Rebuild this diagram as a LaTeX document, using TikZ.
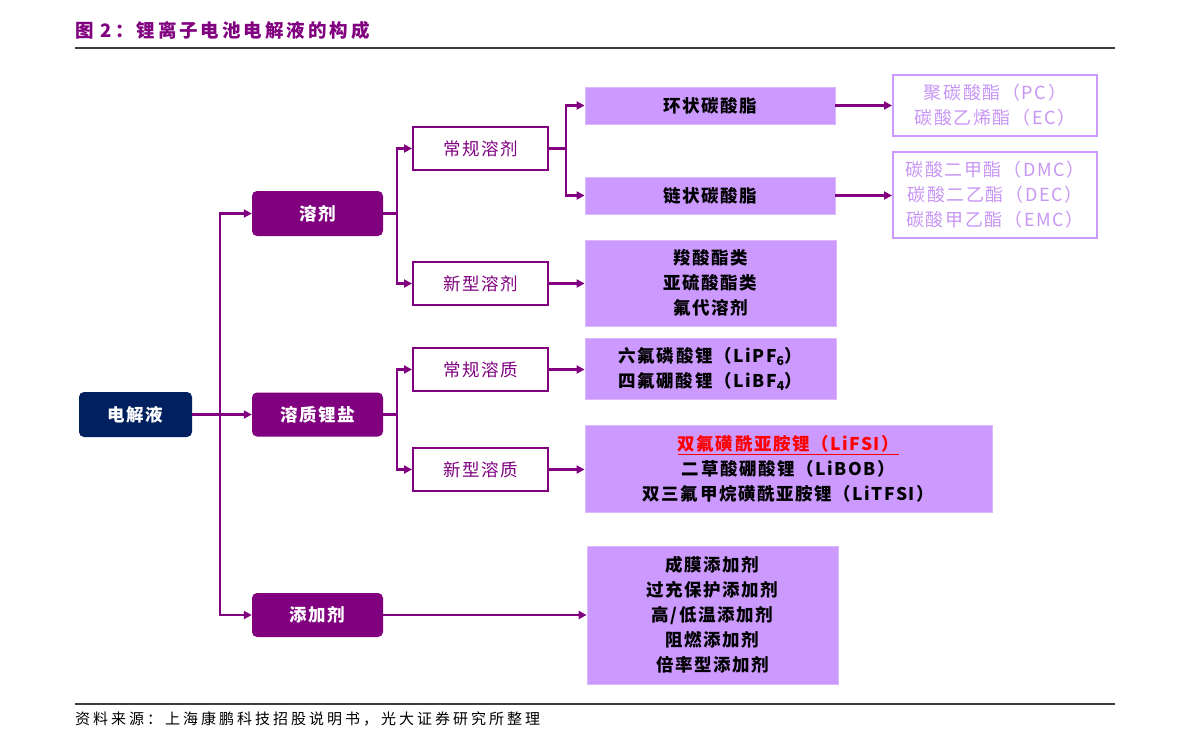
\documentclass[tikz,border=0pt]{standalone}
\usepackage{fontspec}
\setmainfont{Noto Sans CJK SC}[LetterSpace=9]
\newfontfamily\footfont{Noto Sans CJK SC}[LetterSpace=20]
\newfontfamily\titlefont{Noto Sans CJK SC}[LetterSpace=16]
\usetikzlibrary{arrows.meta}
\definecolor{pur}{RGB}{128,0,128}
\definecolor{navy}{RGB}{0,32,96}
\definecolor{lav}{RGB}{204,153,255}
\definecolor{lavtxt}{RGB}{200,150,245}
\begin{document}
\begin{tikzpicture}[x=1pt,y=-1pt,
  base/.style={inner sep=0pt, align=center, font=\fontsize{17.5}{25}\selectfont},
  dark/.style={base, fill=#1, rounded corners=5pt, text=white, font=\fontsize{17.5}{25}\selectfont\bfseries},
  wbox/.style={base, draw=pur, line width=2pt, fill=white, text=pur, minimum width=135pt, minimum height=43pt},
  lbox/.style={base, fill=lav, draw=lav!70!white, line width=0.8pt, text=black, font=\fontsize{17.5}{25}\selectfont\bfseries},
  obox/.style={base, draw=lav, line width=2pt, fill=white, text=lavtxt, minimum width=204pt, font=\fontsize{18}{25}\selectfont},
  arr/.style={draw=pur, line width=2.2pt, -{Triangle[length=8pt,width=8pt]}},
  ln/.style={draw=pur, line width=2.2pt}
]
\useasboundingbox (0,0) rectangle (1191,747);
% title and rules
\node[anchor=west, inner sep=0pt, text=pur, font=\fontsize{18.5}{20}\selectfont\titlefont\bfseries] (title) at (75,30) {图 2：锂离子电池电解液的构成};
\draw[line width=1.3pt, black!75] (75,48) -- (1115,48);
\draw[line width=1.3pt, black!75] (75,704) -- (1115,704);
\node[anchor=west, inner sep=0pt, font=\fontsize{15}{18}\selectfont\footfont] (src) at (75,719) {资料来源：上海康鹏科技招股说明书，光大证券研究所整理};

% level 0/1
\node[dark=navy, minimum width=113pt, minimum height=45pt] (root) at (135.5,414.5) {电解液};
\node[dark=pur, minimum width=131pt, minimum height=45pt] (solv) at (317.5,213.5) {溶剂};
\node[dark=pur, minimum width=131pt, minimum height=44pt] (salt) at (317.5,414.5) {溶质锂盐};
\node[dark=pur, minimum width=131pt, minimum height=44pt] (add) at (317.5,615) {添加剂};

% level 2
\node[wbox] (cs) at (480.5,148.5) {常规溶剂};
\node[wbox] (ns) at (480.5,283.5) {新型溶剂};
\node[wbox] (csa) at (480.5,369.5) {常规溶质};
\node[wbox] (nsa) at (480.5,469.5) {新型溶质};

% level 3
\node[lbox, minimum width=250pt, minimum height=37pt] (ring) at (710,105.5) {环状碳酸脂};
\node[lbox, minimum width=250pt, minimum height=37pt] (chain) at (710,195.5) {链状碳酸脂};
\node[lbox, minimum width=251pt, minimum height=86pt] (newsolv) at (710.5,283) {羧酸酯类\\亚硫酸酯类\\氟代溶剂};
\node[lbox, minimum width=251pt, minimum height=61pt] (convsalt) at (710.5,369) {六氟磷酸锂（LiPF\textsubscript{6}）\\四氟硼酸锂（LiBF\textsubscript{4}）};
\node[lbox, minimum width=407pt, minimum height=87pt] (newsalt) at (788.5,469) {\textcolor{red}{\underline{双氟磺酰亚胺锂（LiFSI）}}\\二草酸硼酸锂（LiBOB）\\双三氟甲烷磺酰亚胺锂（LiTFSI）};
\node[lbox, minimum width=251pt, minimum height=138pt] (additive) at (712.5,615) {成膜添加剂\\过充保护添加剂\\高/低温添加剂\\阻燃添加剂\\倍率型添加剂};

% level 4
\node[obox, minimum height=61pt] (pc) at (995,105.5) {聚碳酸酯（PC）\\碳酸乙烯酯（EC）};
\node[obox, minimum height=86pt] (dmc) at (995,195) {碳酸二甲酯（DMC）\\碳酸二乙酯（DEC）\\碳酸甲乙酯（EMC）};

% connectors
\coordinate (t0) at (220,414.5);
\draw[ln] (root.east) -- (t0);
\draw[arr] (t0) |- (solv.west);
\draw[arr] (t0) |- (add.west);
\draw[arr] (t0) -- (salt.west);

\coordinate (t1) at (397,213.5);
\draw[ln] (solv.east) -- (t1);
\draw[arr] (t1) |- (cs.west);
\draw[arr] (t1) |- (ns.west);

\coordinate (t2) at (397,414.5);
\draw[ln] (salt.east) -- (t2);
\draw[arr] (t2) |- (csa.west);
\draw[arr] (t2) |- (nsa.west);

\coordinate (t3) at (566,148.5);
\draw[ln] (cs.east) -- (t3);
\draw[arr] (t3) |- (ring.west);
\draw[arr] (t3) |- (chain.west);

\draw[arr] (ns.east) -- (ns.east -| newsolv.west);
\draw[arr] (csa.east) -- (csa.east -| convsalt.west);
\draw[arr] (nsa.east) -- (nsa.east -| newsalt.west);
\draw[arr] (add.east) -- (add.east -| additive.west);
\draw[arr] (ring.east) -- (ring.east -| pc.west);
\draw[arr] (chain.east) -- (chain.east -| dmc.west);
\end{tikzpicture}
\end{document}
